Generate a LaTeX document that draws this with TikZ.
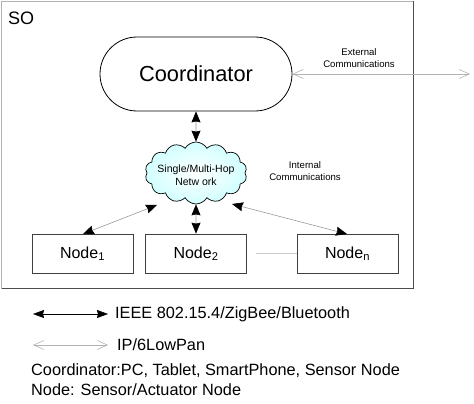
\documentclass[tikz,border=0pt]{standalone}
\usepackage{fontspec}
\setmainfont{Liberation Sans}
\usetikzlibrary{shapes.symbols,shapes.misc,arrows.meta}
\begin{document}
\begin{tikzpicture}[x=1pt,y=-1pt,
  blk/.style={draw=black!40,line width=0.6pt,{Stealth[length=11pt,width=9pt,inset=1pt,black]}-{Stealth[length=11pt,width=9pt,inset=1pt,black]}},
  gry/.style={draw=black!30,line width=0.6pt,{Straight Barb[length=10pt,width=9pt]}-{Straight Barb[length=10pt,width=9pt]}},
  nodebox/.style={draw=black!75,line width=0.7pt,minimum width=101pt,minimum height=39pt,inner sep=0pt,font=\fontsize{16}{18}\selectfont},
  small/.style={font=\fontsize{9.6}{12}\selectfont,align=center,inner sep=0pt},
  legend/.style={anchor=west,inner sep=0pt,font=\fontsize{16.3}{18}\selectfont}]
\useasboundingbox (0,0) rectangle (474,404);
\draw[draw=black!30,line width=0.8pt] (1.5,1) rectangle (413,288);
\draw[draw=black!70,line width=0.8pt] (413,1) -- (413,288) -- (1.5,288);
\node[anchor=west,font=\fontsize{18}{20}\selectfont,inner sep=0pt] (so) at (8,18) {SO};
\node[draw=black,line width=0.8pt,rounded rectangle,minimum width=192pt,minimum height=74pt,inner sep=0pt,font=\fontsize{21.8}{26}\selectfont] (coord) at (196,74) {Coordinator};
\node[cloud,cloud puffs=14,cloud puff arc=120,aspect=1.8,draw=black,line width=0.7pt,inner color=white,outer color=cyan!18,minimum width=102pt,minimum height=62pt,inner sep=0pt] (cloud) at (196,173) {};
\node[small,font=\fontsize{10.5}{13}\selectfont] (cloudtxt) at (196,175) {Single/Multi-Hop\\Netw ork};
\node[nodebox] (n1) at (82.5,253.5) {Node\textsubscript{1}};
\node[nodebox] (n2) at (196,253.5) {Node\textsubscript{2}};
\node[nodebox] (nn) at (347.5,253.5) {Node\textsubscript{n}};
\coordinate (ext) at (470,74);
\draw[gry] (coord.east) -- (ext);
\node[small] (extlbl) at (359,58) {External\\Communications};
\node[small] (intlbl) at (305,171) {Internal\\Communications};
\draw[blk] (coord.south) -- (cloud.north);
\coordinate (c1) at (157,205);
\coordinate (c3) at (232,204);
\coordinate (n1t) at (83,234);
\draw[blk] (n1t) -- (c1);
\draw[blk] (n2.north) -- (cloud.south);
\coordinate (nnt) at (347,234);
\draw[blk] (nnt) -- (c3);
\coordinate (dl) at (256,253.5);
\draw[draw=black!20,line width=0.5pt] (dl) -- (nn.west);
\coordinate (l1a) at (33,314);
\coordinate (l1b) at (108,314);
\draw[draw=black,line width=0.5pt,{Stealth[length=11pt,width=8pt,inset=1pt]}-{Stealth[length=11pt,width=8pt,inset=1pt]}] (l1a) -- (l1b);
\node[legend] (leg1) at (115,314) {IEEE 802.15.4/ZigBee/Bluetooth};
\coordinate (l2a) at (33,345);
\coordinate (l2b) at (108,345);
\draw[gry] (l2a) -- (l2b);
\node[legend] (leg2) at (117,345) {IP/6LowPan};
\node[legend] (leg3) at (31,371) {Coordinator:PC, Tablet, SmartPhone, Sensor Node};
\node[legend] (leg4) at (31,390) {Node: Sensor/Actuator Node};
\end{tikzpicture}
\end{document}
